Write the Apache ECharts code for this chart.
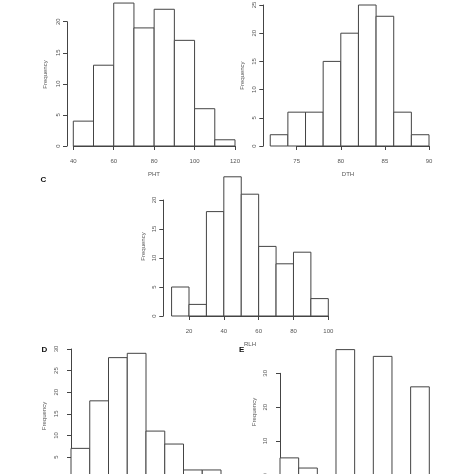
<!DOCTYPE html>
<html>
<head>
<meta charset="utf-8">
<script src="https://cdn.jsdelivr.net/npm/echarts@6/dist/echarts.min.js"></script>
<style>html,body{margin:0;padding:0;background:#fff;}#c{width:474px;height:474px;}</style>
</head>
<body>
<div id="c"></div>
<script>
// ---- Data (bin edges + frequencies) ----
const phtEdges = [40, 50, 60, 70, 80, 90, 100, 110, 120];
const phtCounts = [4, 13, 23, 19, 22, 17, 6, 1];
const phtTicks = [40, 60, 80, 100, 120];

const dthEdges = [72, 74, 76, 78, 80, 82, 84, 86, 88, 90];
const dthCounts = [2, 6, 6, 15, 20, 25, 23, 6, 2];
const dthTicks = [75, 80, 85, 90];

const rlhEdges = [10, 20, 30, 40, 50, 60, 70, 80, 90, 100];
const rlhCounts = [5, 2, 18, 24, 21, 12, 9, 11, 3];
const rlhTicks = [20, 40, 60, 80, 100];

const dEdges = [0, 1, 2, 3, 4, 5, 6, 7, 8];
const dCounts = [7, 18, 28, 29, 11, 8, 2, 2];

const eEdges = [0, 1, 2, 3, 4, 5, 6, 7, 8];
const eCounts = [5, 2, 0, 37, 0, 35, 0, 26];

const labels = { A: 'PHT', B: 'DTH', C: 'RLH' };
const yTitle = 'Frequency';

// ---- Helpers ----
const FONT = 'Liberation Sans, Arial, sans-serif';
const TXT = '#555';
const LINE = '#444';

function binsOf(edges, counts) {
  return counts.map((c, i) => [edges[i], edges[i + 1], c]);
}

function renderBar(params, api) {
  const p0 = api.coord([api.value(0), api.value(2)]);
  const p1 = api.coord([api.value(1), 0]);
  return {
    type: 'rect',
    shape: { x: p0[0], y: p0[1], width: p1[0] - p0[0], height: p1[1] - p0[1] },
    style: { fill: '#fff', stroke: LINE, lineWidth: 1 }
  };
}

function xAx(gi, min, max, interval, offset, show) {
  return {
    gridIndex: gi, type: 'value', min: min, max: max, interval: interval,
    show: show, offset: offset, position: 'bottom',
    axisLine: { show: true, lineStyle: { color: LINE, width: 1 } },
    axisTick: { show: true, length: 4, lineStyle: { color: LINE } },
    axisLabel: { show: true, margin: 6, fontSize: 6, color: TXT, fontFamily: FONT },
    splitLine: { show: false }
  };
}
function yAx(gi, min, max, interval, offset) {
  return {
    gridIndex: gi, type: 'value', min: min, max: max, interval: interval,
    offset: offset, position: 'left',
    axisLine: { show: true, lineStyle: { color: LINE, width: 1 } },
    axisTick: { show: true, length: 4, lineStyle: { color: LINE } },
    axisLabel: { show: true, margin: 6, fontSize: 6, color: TXT, fontFamily: FONT, rotate: 90 },
    splitLine: { show: false }
  };
}
function txt(x, y, s, rot, opts) {
  return Object.assign({
    type: 'text', x: x, y: y, rotation: rot ? Math.PI / 2 : 0,
    style: { text: s, fill: TXT, font: '6px ' + FONT, align: 'center', verticalAlign: 'middle' }
  }, opts || {});
}
function panelLabel(x, y, s) {
  return {
    type: 'text', x: x, y: y,
    style: { text: s, fill: '#111', font: 'bold 8px ' + FONT, align: 'center', verticalAlign: 'middle' }
  };
}
function grid(left, top, width, height) {
  return { left: left, top: top, width: width, height: height, containLabel: false, outerBoundsMode: 'none' };
}

const chart = echarts.init(document.getElementById('c'), null, { renderer: 'canvas' });

const option = {
  backgroundColor: '#fff',
  animation: false,
  grid: [
    grid(73.3, 21.7, 161.7, 124.3),
    grid(296.7, 5, 132.3, 141),
    grid(189, 200, 139.3, 116),
    grid(71, 349, 150, 129.6),
    grid(280, 373.3, 149.3, 101.5)
  ],
  xAxis: [
    xAx(0, phtTicks[0], phtTicks[phtTicks.length - 1], 20, 6, true),
    xAx(1, dthTicks[0], dthTicks[dthTicks.length - 1], 5, 6.7, true),
    xAx(2, rlhTicks[0], rlhTicks[rlhTicks.length - 1], 20, 6.7, true),
    xAx(3, dEdges[0], dEdges[dEdges.length - 1], 1, 6, false),
    xAx(4, eEdges[0], eEdges[eEdges.length - 1], 1, 6, false)
  ],
  yAxis: [
    yAx(0, 0, 20, 5, 6.3),
    yAx(1, 0, 25, 5, 33.4),
    yAx(2, 0, 20, 5, 25.7),
    yAx(3, 0, 30, 5, 5.7),
    yAx(4, 0, 30, 10, 6)
  ],
  series: [
    { type: 'custom', xAxisIndex: 0, yAxisIndex: 0, clip: false, renderItem: renderBar, data: binsOf(phtEdges, phtCounts) },
    { type: 'custom', xAxisIndex: 1, yAxisIndex: 1, clip: false, renderItem: renderBar, data: binsOf(dthEdges, dthCounts) },
    { type: 'custom', xAxisIndex: 2, yAxisIndex: 2, clip: false, renderItem: renderBar, data: binsOf(rlhEdges, rlhCounts) },
    { type: 'custom', xAxisIndex: 3, yAxisIndex: 3, clip: false, renderItem: renderBar, data: binsOf(dEdges, dCounts) },
    { type: 'custom', xAxisIndex: 4, yAxisIndex: 4, clip: false, renderItem: renderBar, data: binsOf(eEdges, eCounts) }
  ],
  graphic: [
    txt(45, 74.5, yTitle, true),
    txt(154, 174, labels.A, false),
    txt(242.7, 75.6, yTitle, true),
    txt(348, 174, labels.B, false),
    txt(143.3, 246.5, yTitle, true),
    txt(250, 344, labels.C, false),
    txt(44.3, 416, yTitle, true),
    txt(254, 412, yTitle, true),
    panelLabel(241.7, -2, 'B'),
    panelLabel(43.3, 179.3, 'C'),
    panelLabel(44.3, 350, 'D'),
    panelLabel(241.7, 350, 'E')
  ]
};
chart.setOption(option);
</script>
</body>
</html>
